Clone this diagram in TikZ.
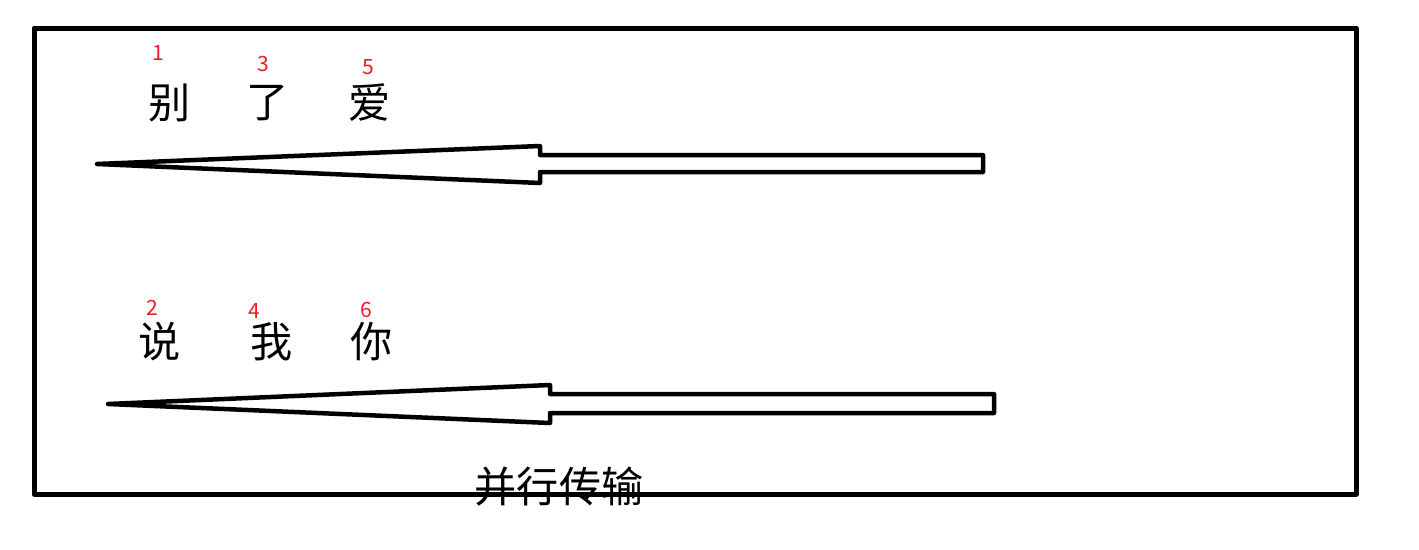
\documentclass[tikz,border=0pt]{standalone}
\usepackage{fontspec}
\newfontfamily\cjk{Noto Sans CJK SC}
\usetikzlibrary{calc}
\definecolor{zahl}{RGB}{235, 28, 36}

\begin{document}
\begin{tikzpicture}[x=0.2mm, y=-0.2mm, line width=0.9mm, line join=round,
    zeichen/.style={font=\cjk\fontsize{24pt}{24pt}\selectfont, inner sep=0pt},
    nummer/.style={font=\cjk\fontsize{12pt}{12pt}\selectfont, text=zahl, inner sep=0pt}]

    \useasboundingbox (0,0) rectangle (1419,549);

    % Rahmen
    \draw[line width=1mm] (34,28) rectangle (1356,494);

    % obere Zeile
    \draw (97,164) -- (540,146) -- (540,155) -- (983,155) -- (983,172) -- (540,172) -- (540,183) -- cycle;
    \node[zeichen] (bie) at (170,103) {别};
    \node[zeichen] (le) at (268,103) {了};
    \node[zeichen] (ai) at (370,103) {爱};
    \node[nummer] (n1) at (158,53) {1};
    \node[nummer] (n3) at (263,64) {3};
    \node[nummer] (n5) at (368,67) {5};

    % untere Zeile
    \draw (108,404) -- (550,385) -- (550,394) -- (994,394) -- (994,413) -- (550,413) -- (550,423) -- cycle;
    \node[zeichen] (shuo) at (160,342) {说};
    \node[zeichen] (wo) at (272,342) {我};
    \node[zeichen] (ni) at (372,342) {你};
    \node[nummer] (n2) at (152,308) {2};
    \node[nummer] (n4) at (254,311) {4};
    \node[nummer] (n6) at (366,310) {6};

    \node[zeichen] (titel) at (559,487) {并行传输};

\end{tikzpicture}
\end{document}
